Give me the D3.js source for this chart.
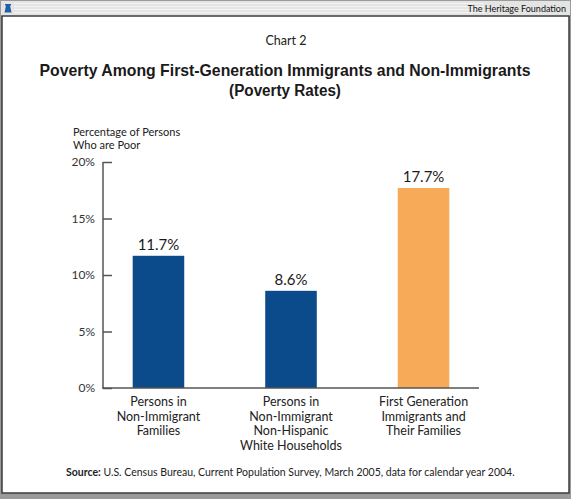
<!DOCTYPE html>
<html>
<head>
<meta charset="utf-8">
<script src="https://cdn.jsdelivr.net/npm/d3@7"></script>
<style>
  body { margin: 0; background: #fff; }
  svg { display: block; }
</style>
</head>
<body>
<script>
// Width and Height
var w = 571;
var h = 499;

var categories = [
  ["Persons in", "Non-Immigrant", "Families"],
  ["Persons in", "Non-Immigrant", "Non-Hispanic", "White Households"],
  ["First Generation", "Immigrants and", "Their Families"]
];
var values = [11.7, 8.6, 17.7];
var barColors = ["#0b4a8b", "#0b4a8b", "#f7ab58"];
var tickValues = [0, 5, 10, 15, 20];
var titleLines = ["Poverty Among First-Generation Immigrants and Non-Immigrants", "(Poverty Rates)"];

var svg = d3.select("body")
  .append("svg")
  .attr("width", w)
  .attr("height", h);

// frame and header strip
svg.append("rect").attr("x", 0).attr("y", 0).attr("width", w).attr("height", h).attr("fill", "#9a9a9a");
svg.append("rect").attr("x", 1).attr("y", 1).attr("width", w - 2).attr("height", 15).attr("fill", "#e4e4e4");
for (var s = 3; s < 15; s += 3) {
  svg.append("rect").attr("x", 14).attr("y", s).attr("width", 470).attr("height", 1).attr("fill", "#f4f4f4");
}
svg.append("rect").attr("x", 2).attr("y", 16).attr("width", w - 4).attr("height", 477)
  .attr("fill", "#fff").attr("stroke", "#3c3c3c").attr("stroke-width", 1.5);

// bell icon
svg.append("path")
  .attr("d", "M5,4 h6 v1.5 h-1 l1.5,7 h-7 l1.5,-7 h-1 z")
  .attr("fill", "#1f5fa8");
svg.append("text")
  .attr("x", 566).attr("y", 11.5)
  .attr("text-anchor", "end")
  .attr("font-family", "Lato, sans-serif")
  .attr("font-size", "9px")
  .attr("fill", "#111")
  .text("The Heritage Foundation");

// titles
svg.append("text")
  .attr("x", 286).attr("y", 45)
  .attr("text-anchor", "middle")
  .attr("font-family", "Lato, sans-serif")
  .attr("font-size", "12.5px")
  .attr("fill", "#222")
  .text("Chart 2");

// condensed bold title: squeeze each line to the width seen in the chart
var titleWidths = [491, 112];
titleLines.forEach(function(line, i) {
  var t = svg.append("text")
    .attr("x", 0).attr("y", 0)
    .attr("text-anchor", "middle")
    .attr("font-family", "'Liberation Sans', Arial, sans-serif")
    .attr("font-weight", "bold")
    .attr("font-size", "17px")
    .attr("fill", "#1a1a1a")
    .text(line);
  var k = titleWidths[i] / t.node().getComputedTextLength();
  t.attr("transform", "translate(285," + (76 + i * 20) + ") scale(" + k + ",1)");
});

// scales
var x = d3.scaleBand()
  .domain(d3.range(values.length))
  .range([103, 479])
  .paddingInner(0.611)
  .paddingOuter(0.224);

var y = d3.scaleLinear()
  .domain([0, 20])
  .range([388, 162]);

// y axis
var yAxis = d3.axisRight(y)
  .tickValues(tickValues)
  .tickSize(9)
  .tickFormat(function(d) { return ""; });

svg.append("g")
  .attr("transform", "translate(103,0)")
  .call(yAxis)
  .call(function(g) {
    g.select(".domain").attr("stroke", "#555").attr("stroke-width", 1.5).attr("d", "M0," + y(20) + "V" + y(0));
    g.selectAll(".tick line").attr("stroke", "#555").attr("stroke-width", 1.5);
  });

svg.selectAll(".ylab")
  .data(tickValues)
  .enter()
  .append("text")
  .attr("class", "ylab")
  .attr("x", 95)
  .attr("y", function(d) { return y(d) + 4; })
  .attr("text-anchor", "end")
  .attr("font-family", "Lato, sans-serif")
  .attr("font-size", "12px")
  .attr("fill", "#333")
  .text(function(d) { return d + "%"; });

// axis title
var ytitle = svg.append("text")
  .attr("font-family", "Lato, sans-serif")
  .attr("font-size", "11px")
  .attr("fill", "#222");
ytitle.append("tspan").attr("x", 73).attr("y", 136).text("Percentage of Persons");
ytitle.append("tspan").attr("x", 73).attr("y", 149).text("Who are Poor");

// bars
svg.selectAll(".bar")
  .data(values)
  .enter()
  .append("rect")
  .attr("class", "bar")
  .attr("x", function(d, i) { return x(i); })
  .attr("y", function(d) { return y(d); })
  .attr("width", x.bandwidth())
  .attr("height", function(d) { return y(0) - y(d); })
  .attr("fill", function(d, i) { return barColors[i]; });

// x axis line
svg.append("line")
  .attr("x1", 102).attr("x2", 479)
  .attr("y1", y(0)).attr("y2", y(0))
  .attr("stroke", "#555")
  .attr("stroke-width", 1.5);

// value labels
svg.selectAll(".val")
  .data(values)
  .enter()
  .append("text")
  .attr("class", "val")
  .attr("x", function(d, i) { return x(i) + x.bandwidth() / 2; })
  .attr("y", function(d) { return y(d) - 6; })
  .attr("text-anchor", "middle")
  .attr("font-family", "Lato, sans-serif")
  .attr("font-size", "15px")
  .attr("fill", "#1a1a1a")
  .text(function(d) { return d.toFixed(1) + "%"; });

// category labels
var cat = svg.selectAll(".cat")
  .data(categories)
  .enter()
  .append("text")
  .attr("class", "cat")
  .attr("text-anchor", "middle")
  .attr("font-family", "Lato, sans-serif")
  .attr("font-size", "12.5px")
  .attr("fill", "#222");

cat.each(function(lines, i) {
  d3.select(this).selectAll("tspan")
    .data(lines)
    .enter()
    .append("tspan")
    .attr("x", x(i) + x.bandwidth() / 2)
    .attr("y", function(d, j) { return 406 + j * 14.6; })
    .text(function(d) { return d; });
});

// source
var src = svg.append("text")
  .attr("x", 66).attr("y", 476)
  .attr("font-family", "Lato, sans-serif")
  .attr("font-size", "10.5px")
  .attr("fill", "#222");
src.append("tspan").attr("font-weight", "bold").text("Source:");
src.append("tspan").text(" U.S. Census Bureau, Current Population Survey, March 2005, data for calendar year 2004.");
</script>
</body>
</html>
